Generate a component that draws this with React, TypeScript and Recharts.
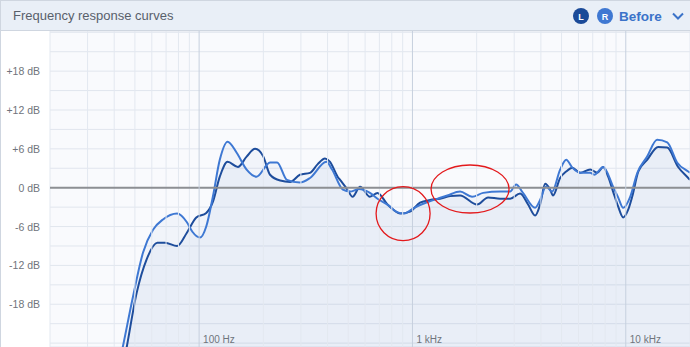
import React from 'react';
import {
  ComposedChart,
  Area,
  XAxis,
  YAxis,
  CartesianGrid,
  ReferenceLine,
  ReferenceDot,
} from 'recharts';

// Left channel (dark blue), frequency in Hz and level in dB
const L_FREQ = [
  41.7, 45.9, 51, 56.7, 63.7, 69.2, 78.9, 87.5, 97, 108, 116, 125, 136, 152, 167, 183, 200, 215,
  240, 267, 297, 331, 359, 389, 411, 446, 458, 496, 524, 568, 632, 686, 764, 814, 875, 974, 1086,
  1210, 1347, 1501, 1672, 2008, 2263, 2576, 2870, 3197, 3484, 3758, 3967, 4187, 4420, 4560, 4924,
  5257, 5614, 6111, 6808, 7347, 7842, 8269, 8721, 9208, 9725, 10262, 10714, 11452, 12592, 14174,
  15642, 17595, 19620, 20000,
];
const L_DB = [
  -31.8, -24.4, -16.2, -11.1, -8.5, -8.5, -9.0, -7.0, -4.6, -3.9, -2.2, 1.7, 4.0, 3.2, 4.8, 6.0, 4.8,
  2.0, 1.1, 0.9, 2.0, 2.3, 3.6, 4.5, 4.0, 1.7, 1.2, -0.3, -1.4, 0.15, -1.4, -0.8, -2.6, -3.4, -4.0,
  -3.7, -2.3, -1.9, -1.7, -1.3, -1.2, -2.6, -1.5, -1.7, -1.7, -0.9, -2.6, -4.3, -2.6, 0.6, -0.3, -1.2,
  1.5, 2.5, 3.1, 2.3, 2.8, 2.3, 3.2, 1.7, -0.6, -2.9, -4.6, -3.4, -1.4, 2.5, 4.3, 6.3, 6.2, 3.2, 1.5,
  1.2,
];

// Right channel (lighter blue)
const R_FREQ = [
  40.3, 44, 49, 54.6, 60.8, 67.7, 78.9, 87.5, 93, 101, 108, 116, 125, 136, 150, 167, 186, 215, 232,
  258, 297, 331, 395, 420, 472, 510, 561, 632, 686, 785, 838, 913, 1018, 1179, 1313, 1457, 1672,
  1903, 2145, 2576, 2870, 3061, 3297, 3758, 3967, 4226, 4512, 4924, 5257, 5614, 6111, 6808, 7113,
  7842, 8721, 9208, 9725, 10487, 11327, 12592, 14022, 15642, 17400, 19620, 20000,
];
const R_DB = [
  -30.4, -24.4, -16.8, -10.0, -6.5, -4.9, -4.0, -5.3, -6.8, -7.7, -6.0, -1.4, 4.3, 7.1, 5.4, 2.8, 1.7,
  3.9, 3.9, 1.2, 0.8, 1.5, 4.0, 2.8, -0.3, -0.6, -0.2, -0.8, -1.7, -2.9, -3.7, -4.0, -3.1, -2.2, -1.7,
  -1.2, -0.6, -1.4, -0.8, -0.6, -0.6, 0.5, -0.8, -3.1, -1.9, 0.2, -0.6, 2.8, 4.3, 3.1, 2.3, 2.3, 2.0,
  3.2, 0.15, -1.5, -3.1, -1.4, 2.3, 4.8, 7.4, 7.0, 3.9, 2.5, 2.3,
];

// axis ticks / grid
const X_TICKS = [
  20, 30, 40, 50, 60, 70, 80, 90, 100, 200, 300, 400, 500, 600, 700, 800, 900, 1000, 2000, 3000,
  4000, 5000, 6000, 7000, 8000, 9000, 10000, 20000,
];
const DECADES = [100, 1000, 10000];
const DECADE_LABELS = ['100 Hz', '1 kHz', '10 kHz'];
const Y_TICKS = [-24, -21, -18, -15, -12, -9, -6, -3, 0, 3, 6, 9, 12, 15, 18, 21, 24];
const Y_LABELED = [-18, -12, -6, 0, 6, 12, 18];

// red highlight marks (centre frequency / level)
const HIGHLIGHT_FREQ = [904, 1862];
const HIGHLIGHT_DB = [-4.0, -0.2];
const HIGHLIGHT_RX = [27, 39];
const HIGHLIGHT_RY = [27, 24];

const CHART_W = 689;
const CHART_H = 316;
const Y_DOMAIN: [number, number] = [-24.6, 24.2];

const rows: { freq: number; L?: number; R?: number }[] = [
  ...L_FREQ.map((f, i) => ({ freq: f, L: L_DB[i] })),
  ...R_FREQ.map((f, i) => ({ freq: f, R: R_DB[i] })),
].sort((a, b) => a.freq - b.freq);

const YTick = (props: any) => {
  const v = props.payload.value;
  if (!Y_LABELED.includes(v)) return <g />;
  return (
    <text x={39} y={props.y} dy={4} textAnchor="end" fontSize={10.5} fill="#6f747c">
      {v > 0 ? `+${v} dB` : `${v} dB`}
    </text>
  );
};

const App: React.FC = () => {
  return (
    <div
      style={{
        position: 'absolute',
        left: 0,
        top: 0,
        width: 690,
        height: 347,
        overflow: 'hidden',
        background: '#ffffff',
        fontFamily: '"Liberation Sans", Arial, sans-serif',
      }}
    >
      <div
        style={{
          height: 29,
          borderTop: '1px solid #cfd6e0',
          borderBottom: '1px solid #cfd6e0',
          borderLeft: '1px solid #cfd6e0',
          background: '#e9eff7',
          position: 'relative',
        }}
      >
        <span style={{ position: 'absolute', left: 12, top: 7, fontSize: 13, color: '#58606b' }}>
          Frequency response curves
        </span>
        <svg width={130} height={29} style={{ position: 'absolute', left: 560, top: 0 }}>
          <circle cx={20} cy={15} r={8} fill="#1b4a98" />
          <text x={20} y={18.5} textAnchor="middle" fontSize={9} fontWeight="bold" fill="#fff">
            L
          </text>
          <circle cx={44} cy={15} r={8} fill="#3f78d2" />
          <text x={44} y={18.5} textAnchor="middle" fontSize={9} fontWeight="bold" fill="#fff">
            R
          </text>
          <text x={58} y={19.5} fontSize={13.5} fontWeight="bold" fill="#3b73c9">
            Before
          </text>
          <polyline points="112,12.5 117,17.5 122,12.5" fill="none" stroke="#3b73c9" strokeWidth={2} />
        </svg>
      </div>
      <div
        style={{
          borderLeft: '1px solid #cfd6e0',
          width: CHART_W,
          height: CHART_H,
          background: 'linear-gradient(to right, #ffffff 49px, #f9fafd 49px)',
        }}
      >
        <ComposedChart width={CHART_W} height={CHART_H} data={rows} margin={{ top: 0, right: 0, bottom: 0, left: 0 }}>
          <CartesianGrid stroke="#e1e6ee" strokeWidth={1} vertical={false} />
          <XAxis
            dataKey="freq"
            type="number"
            scale="log"
            domain={[20, 20000]}
            allowDataOverflow
            ticks={X_TICKS}
            interval={0}
            height={0}
            axisLine={false}
            tickLine={false}
            tick={false}
          />
          <YAxis
            type="number"
            domain={Y_DOMAIN}
            allowDataOverflow
            ticks={Y_TICKS}
            interval={0}
            width={49}
            axisLine={false}
            tickLine={false}
            tick={<YTick />}
          />
          {X_TICKS.filter((t) => !DECADES.includes(t)).map((t) => (
            <ReferenceLine key={`g${t}`} x={t} stroke="#e3e8f0" strokeWidth={1} />
          ))}
          <ReferenceLine y={0} stroke="#8d8f93" strokeWidth={2} />
          <Area
            type="monotone"
            dataKey="L"
            connectNulls
            baseValue={Y_DOMAIN[0]}
            stroke="#1d4c9b"
            strokeWidth={2}
            fill="#3b6fc4"
            fillOpacity={0.045}
            dot={false}
            activeDot={false}
            isAnimationActive={false}
          />
          <Area
            type="monotone"
            dataKey="R"
            connectNulls
            baseValue={Y_DOMAIN[0]}
            stroke="#3e78d3"
            strokeWidth={2}
            fill="#3b6fc4"
            fillOpacity={0.045}
            dot={false}
            activeDot={false}
            isAnimationActive={false}
          />
          {DECADES.map((d, i) => (
            <ReferenceLine
              key={d}
              x={d}
              stroke="#c6d0de"
              strokeWidth={1}
              label={{
                value: DECADE_LABELS[i],
                position: 'insideBottomLeft',
                fontSize: 10,
                fill: '#6f747c',
                offset: 4,
              }}
            />
          ))}
          {HIGHLIGHT_FREQ.map((f, i) => (
            <ReferenceDot
              key={f}
              x={f}
              y={HIGHLIGHT_DB[i]}
              shape={(p: any) => (
                <ellipse
                  cx={p.cx}
                  cy={p.cy}
                  rx={HIGHLIGHT_RX[i]}
                  ry={HIGHLIGHT_RY[i]}
                  fill="none"
                  stroke="#e3191c"
                  strokeWidth={1.3}
                />
              )}
            />
          ))}
        </ComposedChart>
      </div>
    </div>
  );
};

export default App;
